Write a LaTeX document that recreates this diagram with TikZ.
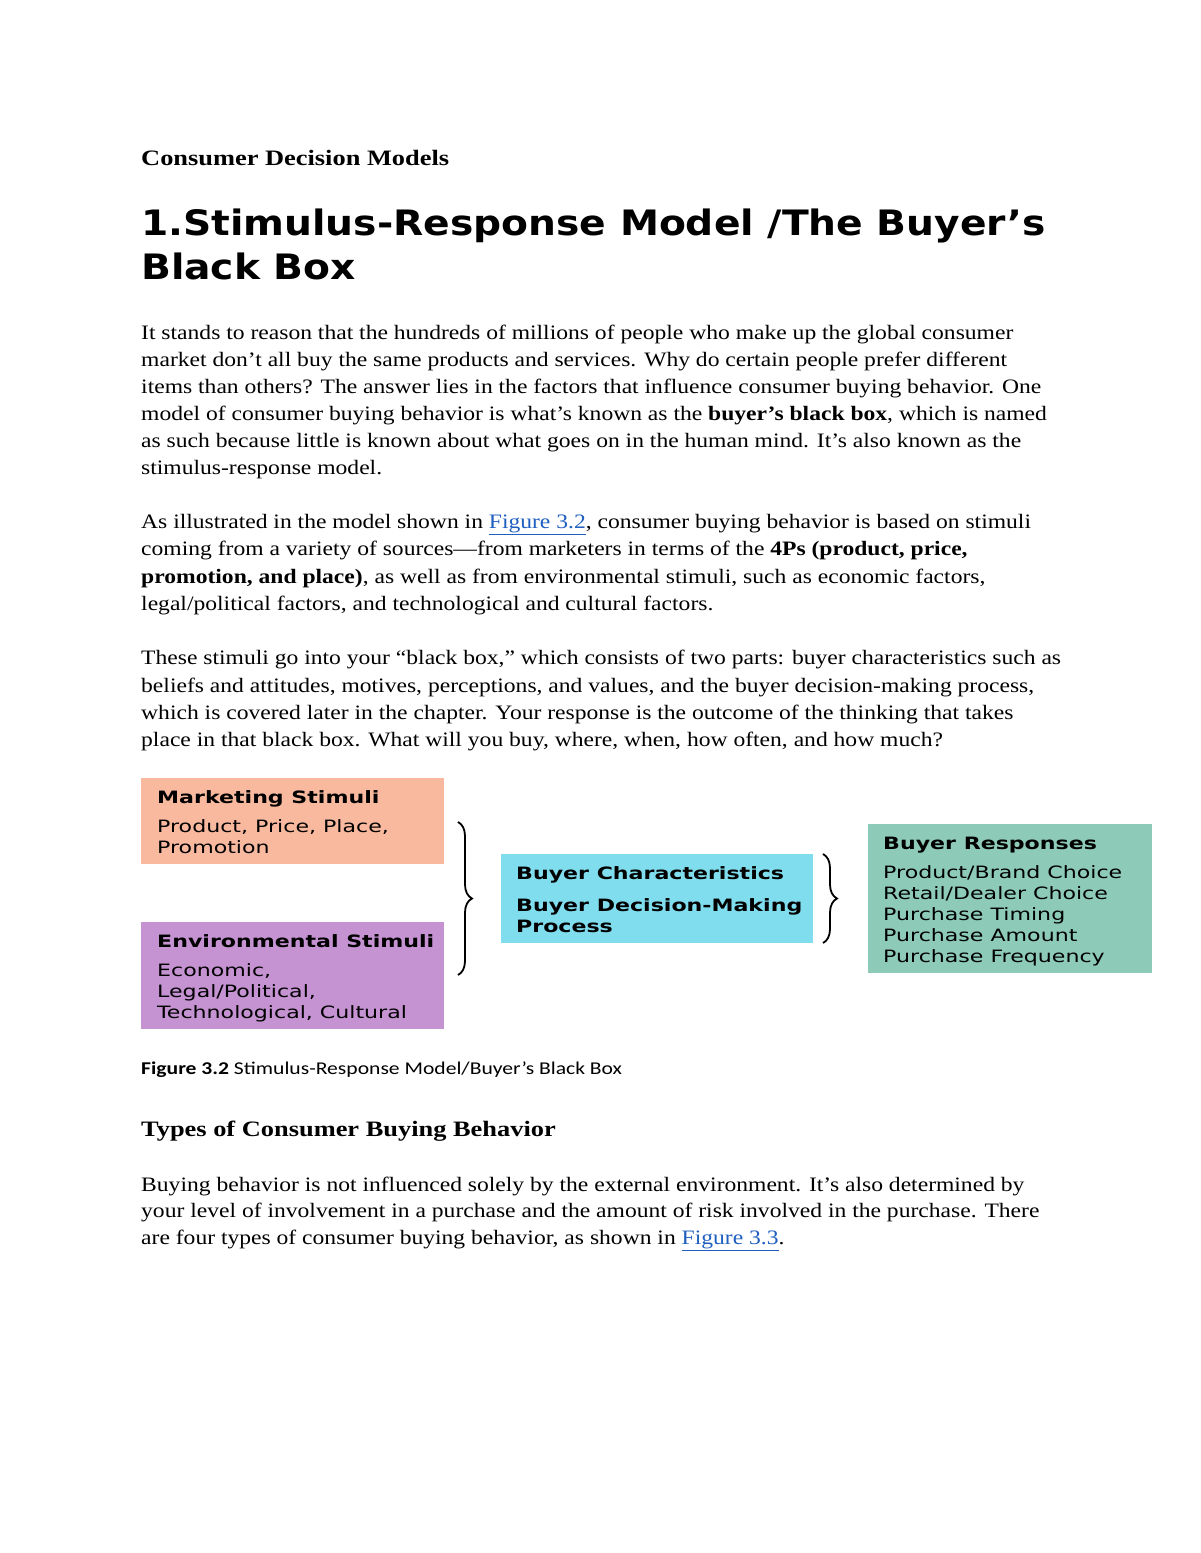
\documentclass[tikz,border=0pt]{standalone}
\usepackage{fontspec}
\setmainfont{Liberation Serif}
\newfontfamily\vsans{DejaVu Sans}
\newfontfamily\csans{Carlito}
\usetikzlibrary{decorations.pathreplacing}
\definecolor{mkt}{HTML}{F8B99F}
\definecolor{env}{HTML}{C592D2}
\definecolor{bch}{HTML}{80DDEE}
\definecolor{rsp}{HTML}{8DCBB8}
\definecolor{lnk}{HTML}{1F5FBF}
\newcommand{\bx}[1]{\scalebox{1.3}[1]{#1}}
\newcommand{\bd}[1]{\scalebox{1.15}[1]{#1}}
\begin{document}
\begin{tikzpicture}[x=1pt,y=1pt,
  body/.style={anchor=base west,inner sep=0pt,font=\fontsize{20.5}{24}\selectfont},
  boxt/.style={anchor=base west,inner sep=0pt,font=\vsans\fontsize{17}{21}\selectfont},
  boxb/.style={boxt,font=\vsans\bfseries\fontsize{17}{21}\selectfont},
  brc/.style={decorate,decoration={brace,amplitude=14pt},line width=1.8pt}]
\useasboundingbox (0,0) rectangle (1200,-1553);
\fill[white] (0,0) rectangle (1200,-1553);
\node[body,font=\bfseries\fontsize{22}{26}\selectfont] (t0) at (141,-165) {\scalebox{1.2}[1]{Consumer Decision Models}};
\node[body,font=\vsans\bfseries\fontsize{35}{40}\selectfont] (t1) at (141,-235) {\scalebox{1.12}[1]{1.Stimulus-Response Model /The Buyer’s}};
\node[body,font=\vsans\bfseries\fontsize{35}{40}\selectfont] (t2) at (141,-279) {\scalebox{1.12}[1]{Black Box}};
\foreach \y/\t in {339/{It stands to reason that the hundreds of millions of people who make up the global consumer},
 366/{market don’t all buy the same products and services. Why do certain people prefer different},
 393/{items than others? The answer lies in the factors that influence consumer buying behavior. One},
 420/{model of consumer buying behavior is what’s known as the \textbf{buyer’s black box}, which is named},
 447/{as such because little is known about what goes on in the human mind. It’s also known as the},
 474/{stimulus-response model.},
 528/{As illustrated in the model shown in \textcolor{lnk}{\underline{Figure 3.2}}, consumer buying behavior is based on stimuli},
 555/{coming from a variety of sources—from marketers in terms of the \textbf{4Ps (product, price,}},
 583/{\textbf{promotion, and place)}, as well as from environmental stimuli, such as economic factors,},
 610/{legal/political factors, and technological and cultural factors.},
 664/{These stimuli go into your “black box,” which consists of two parts: buyer characteristics such as},
 692/{beliefs and attitudes, motives, perceptions, and values, and the buyer decision-making process,},
 719/{which is covered later in the chapter. Your response is the outcome of the thinking that takes},
 746/{place in that black box. What will you buy, where, when, how often, and how much?},
 1191/{Buying behavior is not influenced solely by the external environment. It’s also determined by},
 1217/{your level of involvement in a purchase and the amount of risk involved in the purchase. There},
 1244/{are four types of consumer buying behavior, as shown in \textcolor{lnk}{\underline{Figure 3.3}}.}}
 {\node[body] at (141,-\y) {\bd{\t}};}
% diagram
\fill[mkt] (141,-778) rectangle (444,-864);
\node[boxb] (m1) at (157,-803) {\bx{Marketing Stimuli}};
\node[boxt] (m2) at (157,-832) {\bx{Product, Price, Place,}};
\node[boxt] (m3) at (157,-853) {\bx{Promotion}};
\fill[env] (141,-922) rectangle (444,-1029);
\node[boxb] (e1) at (157,-947) {\bx{Environmental Stimuli}};
\node[boxt] (e2) at (157,-976) {\bx{Economic,}};
\node[boxt] (e3) at (157,-997) {\bx{Legal/Political,}};
\node[boxt] (e4) at (157,-1018) {\bx{Technological, Cultural}};
\fill[bch] (501,-854) rectangle (813,-943);
\node[boxb] (b1) at (516,-879) {\bx{Buyer Characteristics}};
\node[boxb] (b2) at (516,-911) {\bx{Buyer Decision-Making}};
\node[boxb] (b3) at (516,-932) {\bx{Process}};
\fill[rsp] (868,-824) rectangle (1152,-973);
\node[boxb] (r0) at (883,-849) {\bx{Buyer Responses}};
\node[boxt] (r1) at (883,-878) {\bx{Product/Brand Choice}};
\node[boxt] (r2) at (883,-899) {\bx{Retail/Dealer Choice}};
\node[boxt] (r3) at (883,-920) {\bx{Purchase Timing}};
\node[boxt] (r4) at (883,-941) {\bx{Purchase Amount}};
\node[boxt] (r5) at (883,-962) {\bx{Purchase Frequency}};
\coordinate (ba) at (458,-822); \coordinate (bb) at (458,-975);
\coordinate (bc) at (823,-854); \coordinate (bd) at (823,-943);
\draw[brc] (ba) -- (bb);
\draw[brc] (bc) -- (bd);
\node[anchor=base west,inner sep=0pt,font=\csans\fontsize{18}{22}\selectfont] (cap) at (141,-1074) {\scalebox{1.2}[1]{\textbf{Figure 3.2} Stimulus-Response Model/Buyer’s Black Box}};
\node[body,font=\bfseries\fontsize{22}{26}\selectfont] (h2) at (141,-1136) {\scalebox{1.2}[1]{Types of Consumer Buying Behavior}};
\end{tikzpicture}
\end{document}
